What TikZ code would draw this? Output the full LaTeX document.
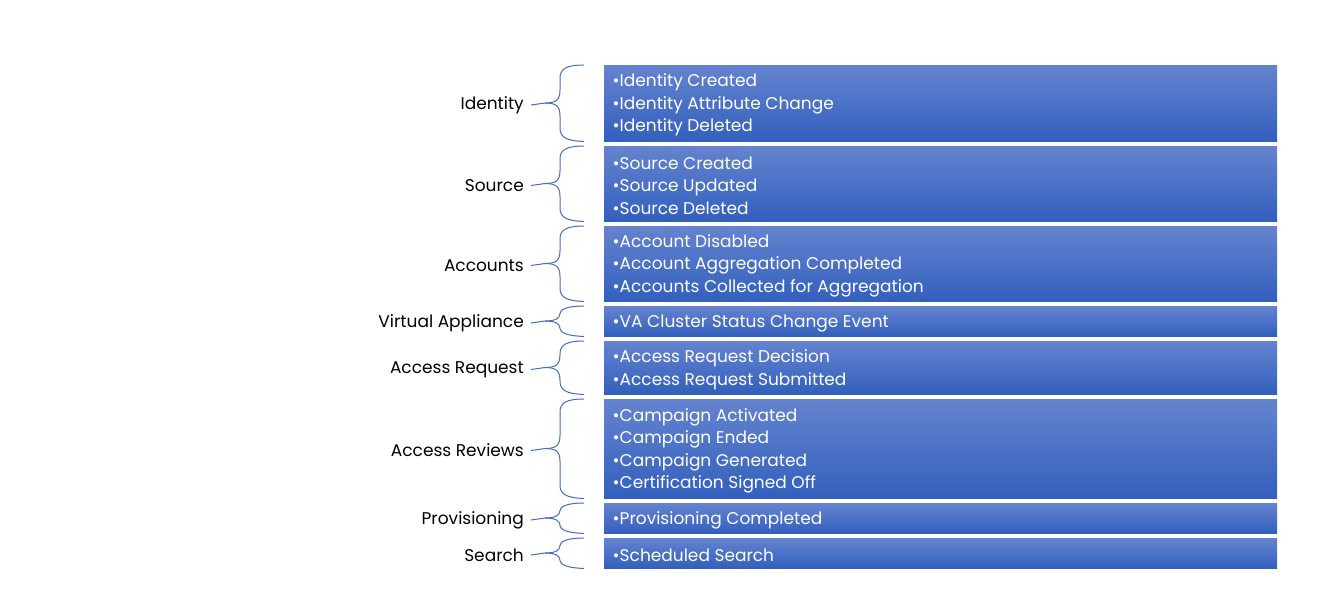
\documentclass[tikz,border=0pt]{standalone}
\usepackage{fontspec}
\setmainfont{Poppins}
\usetikzlibrary{calc}

\definecolor{boxtop}{RGB}{101,131,207}
\definecolor{boxbot}{RGB}{50,96,189}
\definecolor{bracecol}{RGB}{68,108,190}
\newcommand\evtfont{\fontsize{17}{22.5}\selectfont}

\begin{document}
\begin{tikzpicture}[
  x=1pt, y=-1pt,
  evt/.style={anchor=north west, minimum width=673pt, inner sep=0pt,
              top color=boxtop, bottom color=boxbot},
  evttext/.style={anchor=west, inner sep=0pt, xshift=8.5pt, yshift=-2pt,
                  align=left, text=white, font=\evtfont},
  cat/.style={anchor=east, inner sep=0pt, yshift=-2pt, font=\evtfont},
  brace/.style={draw=bracecol, line width=1pt}
]
  \useasboundingbox (0,0) rectangle (1317,600);

  \foreach \name/\top/\bot/\items [count=\i] in {
    Identity/65/141/{\textbullet Identity Created\\\textbullet Identity Attribute Change\\\textbullet Identity Deleted},
    Source/146/221/{\textbullet Source Created\\\textbullet Source Updated\\\textbullet Source Deleted},
    Accounts/226/301/{\textbullet Account Disabled\\\textbullet Account Aggregation Completed\\\textbullet Accounts Collected for Aggregation},
    Virtual Appliance/306/336/{\textbullet VA Cluster Status Change Event},
    Access Request/341/394/{\textbullet Access Request Decision\\\textbullet Access Request Submitted},
    Access Reviews/399/498/{\textbullet Campaign Activated\\\textbullet Campaign Ended\\\textbullet Campaign Generated\\\textbullet Certification Signed Off},
    Provisioning/503/533/{\textbullet Provisioning Completed},
    Search/538/568/{\textbullet Scheduled Search}} {
    \pgfmathsetmacro\h{\bot-\top}
    \pgfmathsetmacro\c{(\top+\bot)/2}
    \pgfmathsetmacro\r{min(13,(\bot-\top)/4)}
    \node[evt, minimum height=\h pt] (b\i) at (604,\top) {};
    \node[evttext] (t\i) at (b\i.west) {\items};
    \node[cat] (c\i) at (524,\c) {\name};
    % brace from the label to the box
    \draw[brace] ([xshift=7pt]c\i.east) -- (545,\c)
      .. controls (556,\c) and (560,\c-3) .. (560,\c-\r) -- (560,\top+\r)
      .. controls (560,\top+4) and (566,\top) .. ([xshift=-20pt]b\i.north west);
    \draw[brace] (545,\c)
      .. controls (556,\c) and (560,\c+3) .. (560,\c+\r) -- (560,\bot-\r)
      .. controls (560,\bot-4) and (566,\bot) .. ([xshift=-20pt]b\i.south west);
  }
\end{tikzpicture}
\end{document}
